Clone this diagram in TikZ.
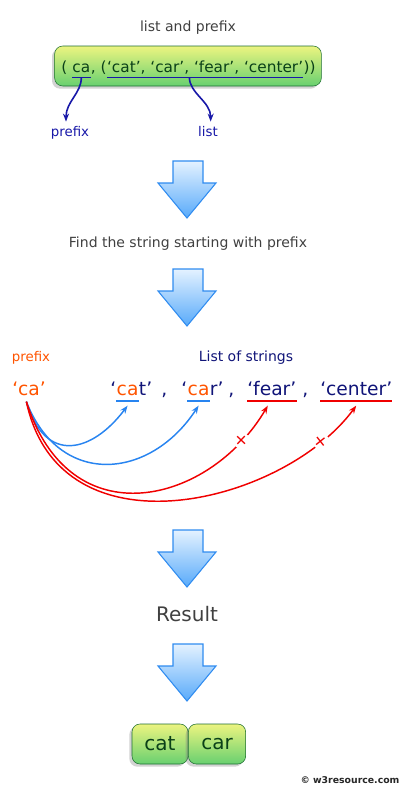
\documentclass[tikz,border=0pt]{standalone}
\usepackage{fontspec}
\setmainfont{DejaVu Sans}
\usepackage{xcolor}
\usepackage{tikz}
\usetikzlibrary{arrows.meta, positioning, calc, shadows}
\definecolor{captiongray}{RGB}{64,64,64}
\definecolor{boxborder}{RGB}{30,110,50}
\definecolor{boxtop}{RGB}{236,244,128}
\definecolor{boxbottom}{RGB}{104,208,112}
\definecolor{boxtext}{RGB}{10,64,24}
\definecolor{labelblue}{RGB}{24,24,168}
\definecolor{navytext}{RGB}{16,20,120}
\definecolor{prefixorange}{RGB}{255,84,0}
\definecolor{arrowtop}{RGB}{228,242,255}
\definecolor{arrowbottom}{RGB}{88,170,250}
\definecolor{arrowline}{RGB}{48,140,240}
\definecolor{matchblue}{RGB}{40,132,240}
\definecolor{failred}{RGB}{240,0,0}

\begin{document}
\begin{tikzpicture}[x=0.75pt, y=-0.75pt,
    caption/.style={text=captiongray, inner sep=0pt, anchor=base},
    greenbox/.style={draw=boxborder, rounded corners=6pt, top color=boxtop, bottom color=boxbottom,
        drop shadow={shadow xshift=-2pt, shadow yshift=-2pt, opacity=0.35}},
    boxword/.style={text=boxtext, inner sep=0pt, anchor=base west, font=\fontsize{11.5}{13}\selectfont},
    word/.style={text=navytext, inner sep=0pt, anchor=base west, font=\fontsize{14}{16}\selectfont},
    hit/.style={text=prefixorange},
    blockarrow/.style={draw=arrowline, line width=0.8pt, line join=miter, top color=arrowtop, bottom color=arrowbottom},
    pointer/.style={labelblue, line width=1.2pt, -{Stealth[length=6pt,width=4.5pt]}},
    match/.style={matchblue, line width=1.1pt, -{Stealth[length=6pt,width=4.5pt]}},
    nomatch/.style={failred, line width=1.1pt, -{Stealth[length=6pt,width=4.5pt]}},
    cross/.style={sloped, text=failred, fill=white, inner sep=0.6pt, font=\fontsize{13}{13}\selectfont}]
    \useasboundingbox (0,0) rectangle (407,794);

    % Input: list and prefix
    \node[caption, font=\fontsize{10.5}{12}\selectfont] (title) at (188,31) {list and prefix};
    \node[greenbox, minimum width=200pt, minimum height=30pt] (input) at (188,66) {};
    \node[boxword] (openp) at (61,72) {(};
    \node[boxword, xshift=3.5pt] (pca) at (openp.base east) {ca};
    \node[boxword] (midp) at (pca.base east) {, (};
    \node[boxword] (plist) at (midp.base east) {‘cat’, ‘car’, ‘fear’, ‘center’};
    \node[boxword] (closep) at (plist.base east) {))};
    \draw[labelblue, line width=1.2pt] ([yshift=-4pt]pca.base west) -- ([yshift=-4pt]pca.base east);
    \draw[labelblue, line width=1.2pt] ([yshift=-4pt]plist.base west) -- ([yshift=-4pt]plist.base east);
    \node[text=labelblue, inner sep=0pt, anchor=base, font=\fontsize{10}{12}\selectfont] (prefixlabel) at (70,136) {prefix};
    \node[text=labelblue, inner sep=0pt, anchor=base, font=\fontsize{10}{12}\selectfont] (listlabel) at (208,136) {list};
    \draw[pointer] ([yshift=-4pt]pca.base) .. controls +(0,16) and +(0,-20) .. ([xshift=-3pt,yshift=3pt]prefixlabel.north);
    \draw[pointer] ([yshift=-4pt]$(plist.base west)!0.42!(plist.base east)$) .. controls +(0,16) and +(0,-20) .. ([xshift=2pt,yshift=3pt]listlabel.north);

    % Block arrows
    \foreach \ytop in {161,269,530,644} {
        \draw[blockarrow] (173,\ytop) -- ++(30,0) -- ++(0,22) -- ++(13,0) -- (187,\ytop+57) -- (158,\ytop+22) -- ++(15,0) -- cycle;
    }
    \node[caption, font=\fontsize{10.5}{12}\selectfont] (task) at (188,247) {Find the string starting with prefix};

    % Prefix compared with each string
    \node[text=prefixorange, inner sep=0pt, anchor=base, font=\fontsize{10}{12}\selectfont] (pfxlabel) at (31,361) {prefix};
    \node[text=navytext, inner sep=0pt, anchor=base, font=\fontsize{10.5}{12}\selectfont] (strlabel) at (246,361) {List of strings};
    \node[word, hit] (pfx) at (12,395) {‘ca’};
    \node[word] (catq) at (110,395) {‘};
    \node[word, hit] (catpre) at (catq.base east) {ca};
    \node[word] (catrest) at (catpre.base east) {t’};
    \node[word] (comma1) at (161,395) {,};
    \node[word] (carq) at (181,395) {‘};
    \node[word, hit] (carpre) at (carq.base east) {ca};
    \node[word] (carrest) at (carpre.base east) {r’};
    \node[word] (comma2) at (228,395) {,};
    \node[word] (fear) at (247,395) {‘fear’};
    \node[word] (comma3) at (302,395) {,};
    \node[word] (center) at (320,395) {‘center’};
    \draw[matchblue, line width=1.3pt] ([yshift=-4.5pt]catpre.base west) -- ([yshift=-4.5pt]catpre.base east);
    \draw[matchblue, line width=1.3pt] ([yshift=-4.5pt]carpre.base west) -- ([yshift=-4.5pt]carpre.base east);
    \draw[failred, line width=1.3pt] ([yshift=-4.5pt]fear.base west) -- ([yshift=-4.5pt]fear.base east);
    \draw[failred, line width=1.3pt] ([yshift=-4.5pt]center.base west) -- ([yshift=-4.5pt]center.base east);
    \coordinate (from) at ([xshift=-2pt,yshift=-5pt]pfx.base);
    \draw[match] (from) .. controls (45,465) and (92,453) .. ([yshift=-8pt]catpre.base);
    \draw[match] (from) .. controls (60,488) and (150,480) .. ([yshift=-8pt]carpre.base);
    \draw[nomatch] (from) .. controls (70,540) and (210,504) .. ([xshift=-3pt,yshift=-8pt]fear.base) node[cross, pos=0.87] (failfear) {+};
    \draw[nomatch] (from) .. controls (60,560) and (284,504) .. ([yshift=-8pt]center.base) node[cross, pos=0.87] (failcenter) {+};

    % Result
    \node[caption, font=\fontsize{15}{17}\selectfont] (result) at (187,621) {Result};
    \node[greenbox, minimum width=42pt, minimum height=30pt, text=boxtext, font=\fontsize{15}{17}\selectfont] (outcat) at (160,744) {cat};
    \node[greenbox, minimum width=43pt, minimum height=30pt, text=boxtext, font=\fontsize{15}{17}\selectfont] (outcar) at (217,744) {car};
    \node[text=black!85, inner sep=0pt, anchor=base, font=\fontsize{7}{8}\selectfont\bfseries] (credit) at (350,783) {\textcopyright\ w3resource.com};
\end{tikzpicture}
\end{document}
